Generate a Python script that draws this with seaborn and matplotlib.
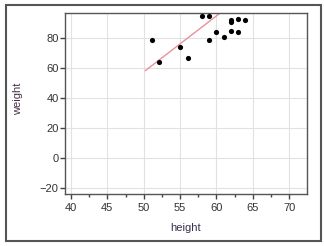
import matplotlib
matplotlib.use("Agg")
import matplotlib.pyplot as plt
import seaborn as sns
import pandas as pd
from matplotlib.patches import Rectangle
from matplotlib.ticker import MultipleLocator

height = [51.1, 52.1, 55.0, 56.1, 58.0, 59.0, 59.0, 60.0, 61.0, 62.0, 62.0, 62.0, 63.0, 63.0, 64.0]
weight = [78.5, 64.0, 74.0, 66.7, 94.7, 94.7, 78.5, 84.0, 80.7, 91.8, 90.5, 84.7, 92.5, 83.8, 91.8]
line_x = [50.2, 62.0]
line_y = [58.0, 102.0]
x_ticks = [40, 45, 50, 55, 60, 65, 70]
y_ticks = [-20, 0, 20, 40, 60, 80]

sns.set_style("white")
plt.rcParams['font.family'] = ['Liberation Sans', 'DejaVu Sans']

fig = plt.figure(figsize=(3.24, 2.46), dpi=100)
fig.patches.append(Rectangle((6/324, 1 - 241/246), 315/324, 236/246, transform=fig.transFigure,
                             fill=False, edgecolor='#555555', linewidth=1.5))
ax = fig.add_axes([65/324, 52/246, 241.5/324, 181/246])

df = pd.DataFrame({"height": height, "weight": weight})
sns.lineplot(x=line_x, y=line_y, ax=ax, color='#e8929c', linewidth=1.0)
sns.scatterplot(data=df, x="height", y="weight", ax=ax, color='black', s=14,
                edgecolor='black', linewidth=0, zorder=3)

ax.set_xlim(39.17, 72.4)
ax.set_ylim(-24.2, 96.5)
ax.set_xticks(x_ticks)
ax.set_yticks(y_ticks)
ax.xaxis.set_minor_locator(MultipleLocator(2.5))
ax.grid(True, which='major', color='#e2e2e2', linewidth=0.8)
ax.set_axisbelow(True)
for sp in ax.spines.values():
    sp.set_color('#555555')
    sp.set_linewidth(1.0)
ax.tick_params(axis='both', which='major', direction='out', length=3.6, width=1,
               color='#444444', labelsize=8, labelcolor='#333333', pad=1,
               bottom=True, left=True)
ax.tick_params(axis='x', which='major', pad=3)
ax.tick_params(axis='x', which='minor', direction='out', length=2.5, width=1,
               color='#444444', bottom=True)
ax.set_xlabel("height", fontsize=8, color='#3a3050')
ax.set_ylabel("weight", fontsize=8, color='#4a3048')
ax.xaxis.set_label_coords(0.5, -0.162)
ax.yaxis.set_label_coords(-0.175, 0.525)

fig.savefig("out.png", dpi=100)
